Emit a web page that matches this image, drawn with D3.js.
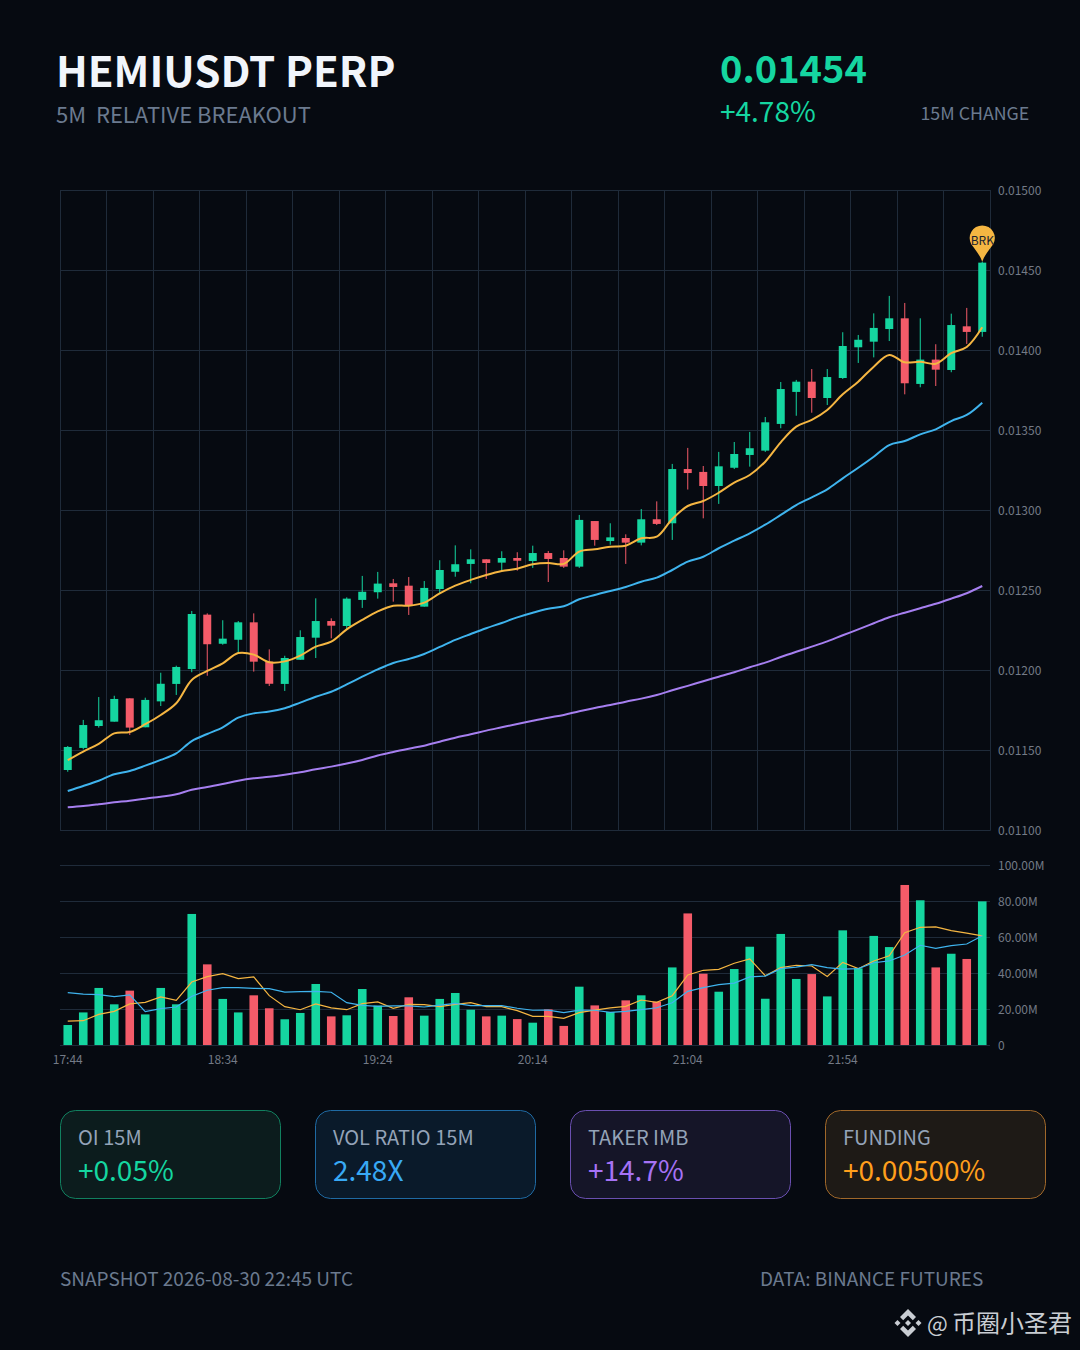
<!DOCTYPE html>
<html lang="en">
  <head>
    <meta charset="UTF-8" />
    <title>HEMIUSDT PERP</title>
    <script src="https://cdn.jsdelivr.net/npm/d3@7/dist/d3.min.js"></script>
    <style>
      html, body { margin: 0; padding: 0; background: #060a11; }
      svg { display: block; }
      text { font-family: "Noto Sans CJK SC", "Noto Sans", sans-serif; white-space: pre; }
    </style>
  </head>
  <body>
    <svg width="1080" height="1350"></svg>
    <script>
      const times = ["17:44","17:49","17:54","17:59","18:04","18:09","18:14","18:19","18:24","18:29",
        "18:34","18:39","18:44","18:49","18:54","18:59","19:04","19:09","19:14","19:19",
        "19:24","19:29","19:34","19:39","19:44","19:49","19:54","19:59","20:04","20:09",
        "20:14","20:19","20:24","20:29","20:34","20:39","20:44","20:49","20:54","20:59",
        "21:04","21:09","21:14","21:19","21:24","21:29","21:34","21:39","21:44","21:49",
        "21:54","21:59","22:04","22:09","22:14","22:19","22:24","22:29","22:34","22:39"];
      const timeTicks = ["17:44","18:34","19:24","20:14","21:04","21:54"];

      const opens = [0.011375,0.011513,0.011650,0.011677,0.011823,0.011642,0.011804,0.011913,0.012006,0.012346,
        0.012164,0.012189,0.012298,0.012052,0.011913,0.012064,0.012202,0.012306,0.012275,0.012438,
        0.012486,0.012542,0.012527,0.012396,0.012506,0.012614,0.012663,0.012692,0.012671,0.012700,
        0.012681,0.012731,0.012700,0.012646,0.012931,0.012806,0.012825,0.012796,0.012942,0.012917,
        0.013256,0.013238,0.013150,0.013264,0.013344,0.013371,0.013538,0.013738,0.013802,0.013700,
        0.013825,0.014017,0.014052,0.014131,0.014198,0.013788,0.013940,0.013875,0.014148,0.014113];
      const highs = [0.011525,0.011688,0.011831,0.011839,0.011823,0.011827,0.011983,0.012027,0.012369,0.012354,
        0.012311,0.012306,0.012354,0.012129,0.012089,0.012248,0.012448,0.012323,0.012454,0.012588,
        0.012613,0.012569,0.012581,0.012556,0.012686,0.012779,0.012754,0.012692,0.012742,0.012736,
        0.012777,0.012744,0.012748,0.012969,0.012931,0.012917,0.012848,0.013006,0.013054,0.013288,
        0.013388,0.013275,0.013363,0.013425,0.013488,0.013581,0.013800,0.013813,0.013881,0.013881,
        0.014111,0.014094,0.014229,0.014338,0.014294,0.014198,0.014036,0.014227,0.014263,0.014552];
      const lows = [0.011364,0.011504,0.011640,0.011677,0.011594,0.011642,0.011775,0.011844,0.011986,0.011964,
        0.012158,0.012106,0.011990,0.011900,0.011869,0.012064,0.012075,0.012198,0.012250,0.012388,
        0.012446,0.012427,0.012344,0.012396,0.012479,0.012583,0.012542,0.012569,0.012625,0.012621,
        0.012638,0.012550,0.012638,0.012638,0.012777,0.012783,0.012663,0.012779,0.012906,0.012813,
        0.013128,0.012948,0.013038,0.013256,0.013271,0.013363,0.013511,0.013589,0.013608,0.013656,
        0.013819,0.013919,0.013954,0.014056,0.013723,0.013767,0.013775,0.013861,0.014038,0.014083];
      const closes = [0.011519,0.011656,0.011686,0.011819,0.011640,0.011813,0.011914,0.012019,0.012350,0.012161,
        0.012196,0.012298,0.012052,0.011914,0.012075,0.012206,0.012306,0.012277,0.012446,0.012489,
        0.012540,0.012519,0.012402,0.012513,0.012625,0.012661,0.012692,0.012669,0.012700,0.012683,
        0.012731,0.012694,0.012646,0.012938,0.012813,0.012829,0.012796,0.012942,0.012913,0.013256,
        0.013231,0.013150,0.013273,0.013350,0.013386,0.013548,0.013756,0.013802,0.013700,0.013831,
        0.014025,0.014064,0.014138,0.014198,0.013792,0.013940,0.013877,0.014156,0.014113,0.014546];

      const emaFast = [0.011436,0.011490,0.011538,0.011604,0.011613,0.011661,0.011719,0.011792,0.011938,0.011994,
        0.012042,0.012106,0.012096,0.012048,0.012054,0.012090,0.012146,0.012177,0.012254,0.012313,
        0.012366,0.012402,0.012402,0.012421,0.012479,0.012527,0.012563,0.012594,0.012619,0.012633,
        0.012661,0.012669,0.012663,0.012740,0.012754,0.012771,0.012777,0.012823,0.012833,0.012944,
        0.013025,0.013056,0.013108,0.013171,0.013219,0.013302,0.013423,0.013521,0.013563,0.013625,
        0.013723,0.013802,0.013896,0.013969,0.013923,0.013927,0.013914,0.013980,0.014019,0.014142];
      const emaMid = [0.011244,0.011275,0.011308,0.011348,0.011369,0.011402,0.011438,0.011479,0.011556,0.011600,
        0.011642,0.011702,0.011729,0.011740,0.011761,0.011796,0.011833,0.011864,0.011910,0.011958,
        0.012004,0.012044,0.012069,0.012100,0.012144,0.012188,0.012225,0.012261,0.012294,0.012329,
        0.012358,0.012383,0.012398,0.012442,0.012469,0.012494,0.012519,0.012552,0.012577,0.012625,
        0.012677,0.012708,0.012761,0.012808,0.012854,0.012908,0.012969,0.013031,0.013079,0.013129,
        0.013198,0.013264,0.013333,0.013406,0.013431,0.013473,0.013504,0.013556,0.013594,0.013671];
      const emaSlow = [0.011142,0.011150,0.011161,0.011173,0.011183,0.011196,0.011208,0.011223,0.011252,0.011269,
        0.011288,0.011308,0.011323,0.011333,0.011346,0.011361,0.011380,0.011396,0.011415,0.011438,
        0.011466,0.011488,0.011508,0.011527,0.011552,0.011577,0.011598,0.011621,0.011642,0.011663,
        0.011683,0.011702,0.011719,0.011742,0.011763,0.011781,0.011802,0.011821,0.011844,0.011873,
        0.011901,0.011930,0.011958,0.011986,0.012017,0.012046,0.012081,0.012114,0.012146,0.012179,
        0.012217,0.012254,0.012292,0.012330,0.012358,0.012386,0.012414,0.012446,0.012480,0.012525];

      const volumes = [11.1,18.1,31.7,22.6,30.2,17.0,31.7,22.6,72.8,44.8,
        25.6,18.1,27.6,20.4,14.3,17.8,33.9,15.9,16.5,31.1,
        21.9,16.1,26.5,16.3,25.6,28.9,19.6,15.9,16.3,14.4,
        12.4,19.8,10.6,32.4,22.0,18.3,24.8,27.6,24.1,43.1,
        73.1,39.6,29.6,42.2,54.6,25.7,61.7,36.7,39.4,27.0,
        63.7,42.6,60.6,54.4,88.9,80.4,43.1,50.7,47.8,79.8];
      const volMaFast = [13.3,13.5,17.0,18.7,22.8,23.7,26.7,24.8,35.0,38.0,
        39.6,36.9,37.8,27.4,21.3,19.6,22.8,20.6,19.6,23.0,
        23.9,20.4,22.6,22.4,21.3,22.6,23.5,21.3,21.3,19.1,
        15.9,15.9,14.8,18.0,19.4,20.6,21.5,25.0,23.7,27.4,
        38.9,41.5,42.0,45.4,47.8,38.5,43.0,44.3,43.9,38.1,
        45.9,42.4,46.7,49.6,62.4,65.4,65.6,63.5,62.2,60.6];
      const volMaSlow = [29.1,28.3,28.0,26.9,27.8,18.5,20.2,21.1,27.0,30.4,
        31.9,31.9,31.5,31.3,29.4,29.6,29.8,29.3,23.5,22.0,
        21.5,21.7,21.7,21.1,22.2,23.1,21.9,21.9,21.9,20.4,
        19.3,19.4,18.0,19.4,19.3,18.1,18.7,19.6,20.7,23.5,
        29.8,31.9,33.5,34.4,37.8,38.3,42.4,43.3,44.6,43.0,
        42.2,42.4,45.7,46.7,50.0,55.4,53.7,55.2,56.1,60.7];

      const priceTicks = [0.011,0.0115,0.012,0.0125,0.013,0.0135,0.014,0.0145,0.015];
      const volTicks = [0,20,40,60,80,100];
      const cardLabels = ["OI 15M","VOL RATIO 15M","TAKER IMB","FUNDING"];
      const cardValues = ["+0.05%","2.48X","+14.7%","+0.00500%"];

      const up = "#15d6a0", down = "#f45b69", amber = "#f5b642", blue = "#3fb4ee", purple = "#a67ff0";
      const gridColor = "#1f2b3a", axisText = "#737a86", mutedText = "#6b7a8f";

      const svg = d3.select("svg");

      const x = d3.scaleBand().domain(times).range([60, 990]);
      const xc = (t) => x(t) + x.bandwidth() / 2;
      const xGrid = d3.scaleLinear().domain([0, 20]).range([60, 990]);
      const y = d3.scaleLinear().domain([0.011, 0.015]).range([830, 190]);
      const yVol = d3.scaleLinear().domain([0, 100]).range([1045, 865]);
      // keep 1px grid lines on the pixel grid
      const crisp = (v) => Math.floor(v + 0.01) + 0.5;

      // header
      const label = (px, py, str, size, fill, weight) =>
        svg.append("text").attr("x", px).attr("y", py).attr("font-size", size)
          .attr("fill", fill).attr("font-weight", weight || 400).text(str);

      label(56, 87, "HEMIUSDT PERP", 42, "#f1f5fb", 700);
      label(56, 123, "5M  RELATIVE BREAKOUT", 22, mutedText);
      label(720, 83, "0.01454", 38, up, 700);
      label(720, 122, "+4.78%", 28, up);
      label(920.5, 120, "15M CHANGE", 17.8, mutedText);

      // price grid
      svg.append("g").selectAll("line").data(priceTicks).join("line")
        .attr("x1", 60).attr("x2", 990.5)
        .attr("y1", (d) => crisp(y(d))).attr("y2", (d) => crisp(y(d)))
        .attr("stroke", gridColor);
      svg.append("g").selectAll("line").data(d3.range(21)).join("line")
        .attr("x1", (d) => crisp(xGrid(d))).attr("x2", (d) => crisp(xGrid(d)))
        .attr("y1", 190).attr("y2", 830.5)
        .attr("stroke", gridColor);

      const priceAxis = d3.axisRight(y).tickValues(priceTicks).tickFormat(d3.format(".5f")).tickSize(0).tickPadding(8);
      const pa = svg.append("g").attr("transform", "translate(990,1)").call(priceAxis);
      pa.select(".domain").remove();
      pa.selectAll("text").attr("fill", axisText).attr("font-size", 12)
        .style("font-family", '"Noto Sans CJK SC"');

      // candles
      const candles = svg.append("g").selectAll("g").data(times).join("g");
      candles.append("line")
        .attr("x1", (d) => xc(d)).attr("x2", (d) => xc(d))
        .attr("y1", (d, i) => y(highs[i])).attr("y2", (d, i) => y(lows[i]))
        .attr("stroke", (d, i) => (closes[i] >= opens[i] ? up : down));
      candles.append("rect")
        .attr("x", (d) => xc(d) - 4).attr("width", 8)
        .attr("y", (d, i) => y(Math.max(opens[i], closes[i])))
        .attr("height", (d, i) => Math.abs(y(opens[i]) - y(closes[i])))
        .attr("fill", (d, i) => (closes[i] >= opens[i] ? up : down));

      // moving averages
      const priceLine = d3.line().x((d, i) => xc(times[i])).y((d) => y(d)).curve(d3.curveCatmullRom.alpha(0.5));
      [[emaSlow, purple], [emaMid, blue], [emaFast, amber]].forEach(([s, c]) => {
        svg.append("path").attr("d", priceLine(s)).attr("fill", "none")
          .attr("stroke", c).attr("stroke-width", 2);
      });

      // BRK pin sits on the last high
      const last = times.length - 1;
      const pin = svg.append("g").attr("transform", `translate(${xc(times[last])},${y(highs[last])})`);
      pin.append("path").attr("d", "M0,0 C-2,-6 -7,-12 -11,-17.5 A12.6,12.6 0 1 1 11,-17.5 C7,-12 2,-6 0,0 Z")
        .attr("fill", amber);
      pin.append("text").attr("y", -17).attr("text-anchor", "middle").attr("font-size", 12)
        .attr("fill", "#1a2230").text("BRK");

      // volume panel
      svg.append("g").selectAll("line").data(volTicks).join("line")
        .attr("x1", 60).attr("x2", 990)
        .attr("y1", (d) => crisp(yVol(d))).attr("y2", (d) => crisp(yVol(d)))
        .attr("stroke", gridColor);

      const volAxis = d3.axisRight(yVol).tickValues(volTicks)
        .tickFormat((d) => (d === 0 ? "0" : d.toFixed(2) + "M")).tickSize(0).tickPadding(8);
      const va = svg.append("g").attr("transform", "translate(990,1)").call(volAxis);
      va.select(".domain").remove();
      va.selectAll("text").attr("fill", axisText).attr("font-size", 12)
        .style("font-family", '"Noto Sans CJK SC"');

      svg.append("g").selectAll("rect").data(volumes).join("rect")
        .attr("x", (d, i) => xc(times[i]) - 4.3).attr("width", 8.6)
        .attr("y", (d) => yVol(d)).attr("height", (d) => yVol(0) - yVol(d))
        .attr("fill", (d, i) => (closes[i] >= opens[i] ? up : down));

      const volLine = d3.line().x((d, i) => xc(times[i])).y((d) => yVol(d));
      [[volMaFast, amber], [volMaSlow, blue]].forEach(([s, c]) => {
        svg.append("path").attr("d", volLine(s)).attr("fill", "none")
          .attr("stroke", c).attr("stroke-width", 1.2);
      });

      const timeAxis = d3.axisBottom(x).tickValues(timeTicks).tickSize(0).tickPadding(9);
      const ta = svg.append("g").attr("transform", "translate(0,1046)").call(timeAxis);
      ta.select(".domain").remove();
      ta.selectAll("text").attr("fill", axisText).attr("font-size", 12)
        .style("font-family", '"Noto Sans CJK SC"');

      // stat cards
      const cardX = d3.scalePoint().domain(cardLabels).range([60, 825]);
      const cardFill = ["#0c1c1d", "#0a1a2a", "#151528", "#1e1a16"];
      const cardStroke = ["#11805f", "#1f6aa3", "#6a4fb0", "#a0682a"];
      const cardText = ["#15d6a0", "#38a9f5", "#a672f5", "#ff9f1c"];
      cardLabels.forEach((name, i) => {
        const g = svg.append("g").attr("transform", `translate(${cardX(name)},1110)`);
        g.append("rect").attr("x", 0.5).attr("y", 0.5).attr("width", 220).attr("height", 88).attr("rx", 15)
          .attr("fill", cardFill[i]).attr("stroke", cardStroke[i]);
        g.append("text").attr("x", 18).attr("y", 35).attr("font-size", 20).attr("fill", "#94a3b8").text(name);
        g.append("text").attr("x", 18).attr("y", 71).attr("font-size", 28).attr("fill", cardText[i]).text(cardValues[i]);
      });

      // footer
      label(60, 1286, "SNAPSHOT 2026-08-30 22:45 UTC", 19, mutedText);
      label(760, 1286, "DATA: BINANCE FUTURES", 19, mutedText);

      // watermark
      const logo = svg.append("g").attr("transform", "translate(908,1323)").attr("fill", "#c9cdd3");
      logo.append("path").attr("d", "M0,-14 L8,-6 L4.8,-2.8 L0,-7.6 L-4.8,-2.8 L-8,-6 Z");
      logo.append("path").attr("d", "M0,14 L8,6 L4.8,2.8 L0,7.6 L-4.8,2.8 L-8,6 Z");
      logo.append("path").attr("d", "M-13.5,0 L-10.5,-3 L-7.5,0 L-10.5,3 Z");
      logo.append("path").attr("d", "M13.5,0 L10.5,-3 L7.5,0 L10.5,3 Z");
      logo.append("path").attr("d", "M0,-3 L3,0 L0,3 L-3,0 Z");
      label(927, 1332, "@", 22, "#c9cdd3");
      label(952, 1332, "币圈小圣君", 24, "#c9cdd3");
    </script>
  </body>
</html>
